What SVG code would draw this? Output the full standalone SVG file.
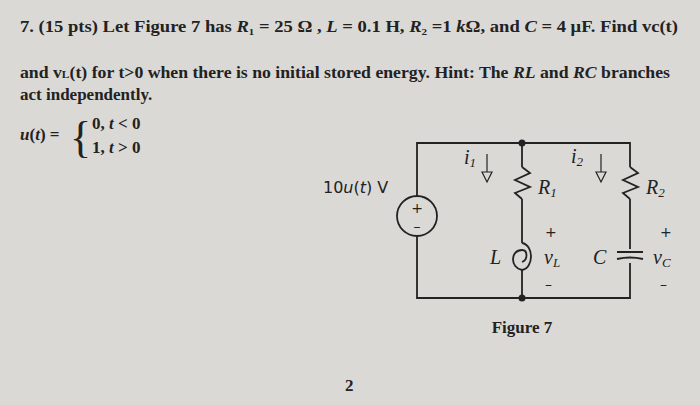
<svg xmlns="http://www.w3.org/2000/svg" width="700" height="405" viewBox="0 0 700 405">
<style>
.t{font-family:"Liberation Serif",serif;font-size:17px;fill:#222;font-weight:bold}
.it{font-style:italic}
.w{fill:none;stroke:#222;stroke-width:1.8}
.c{font-family:"Liberation Serif",serif;font-size:20px;fill:#222;font-style:italic}
.s{font-family:"DejaVu Sans",sans-serif;font-size:14px;fill:#222}
.ah{fill:none;stroke:#222;stroke-width:1.2}
</style>
<rect width="700" height="405" fill="#dad9d6"/>
<g id="text">
<text class="t" x="20" y="32" textLength="658" lengthAdjust="spacingAndGlyphs">7. (15 pts) Let Figure 7 has <tspan class="it">R</tspan>₁ = 25 Ω , <tspan class="it">L</tspan> = 0.1 H,  <tspan class="it">R</tspan>₂ =1 <tspan class="it">k</tspan>Ω, and <tspan class="it">C</tspan> = 4 μF. Find vc(t)</text>
<text class="t" x="20" y="78" textLength="650" lengthAdjust="spacingAndGlyphs">and v<tspan font-size="11">L</tspan>(t) for t&gt;0 when there is no initial stored energy. Hint: The <tspan class="it">RL</tspan> and <tspan class="it">RC</tspan> branches</text>
<text class="t" x="20" y="100">act independently.</text>
<text class="t" x="20" y="140"><tspan class="it">u</tspan>(<tspan class="it">t</tspan>) =</text>
<text class="t" x="70" y="152" style="font-size:44px;font-weight:normal">{</text>
<text class="t" x="92" y="129">0, <tspan class="it">t</tspan> &lt; 0</text>
<text class="t" x="92" y="153">1, <tspan class="it">t</tspan> &gt; 0</text>
<text class="t" x="522" y="333" text-anchor="middle">Figure 7</text>
<text class="t" x="345" y="391" font-weight="normal">2</text>
</g>
<g id="connectors">
<path class="w" d="M417,196 V143 H630 V167 M630,199 V249 M630,263 V298 H417 V236"/>
<path class="w" d="M522,143 V167 M522,199 V243 M522,270 V298"/>
<circle cx="522" cy="143" r="3.5" fill="#222"/>
<circle cx="522" cy="298" r="3.5" fill="#222"/>
</g>
<g id="source"><circle class="w" cx="417" cy="216" r="20"/><text class="s" x="417" y="213" text-anchor="middle" font-size="12">+</text><text class="s" x="417" y="231" text-anchor="middle" font-size="12">–</text><text class="s" x="323" y="193" style="font-size:16px">10<tspan font-style="italic">u</tspan>(<tspan font-style="italic">t</tspan>) V</text></g>
<g id="R1"><path class="w" d="M522,167 L530,173 L515,180 L530,187 L515,193 L522,199"/><text class="c" x="538" y="194">R<tspan font-size="13" dy="3">1</tspan></text></g>
<g id="R2"><path class="w" d="M630,167 L638,173 L623,180 L638,187 L623,193 L630,199"/><text class="c" x="646" y="194">R<tspan font-size="13" dy="3">2</tspan></text></g>
<g id="L"><path class="w" d="M522,243 C534,245 534,268 522,270 C510,268 510,250 522,250 C528,250 528,260 522,262"/><text class="c" x="490" y="264">L</text><text class="s" x="545" y="237">+</text><text class="c" x="544" y="264">v<tspan font-size="13" dy="3">L</tspan></text><text class="s" x="545" y="289">–</text></g>
<g id="C"><path class="w" stroke-width="2.2" d="M617,252 H643 M617,259 Q630,256 643,259"/><text class="c" x="593" y="264">C</text><text class="s" x="660" y="237">+</text><text class="c" x="653" y="264">v<tspan font-size="13" dy="3">C</tspan></text><text class="s" x="660" y="289">–</text></g>
<g id="i1"><line class="ah" x1="487" y1="154" x2="487" y2="172"/><path class="ah" d="M482,172 L492,172 L487,182 Z"/><text class="c" x="464" y="164">i<tspan font-size="13" dy="3">1</tspan></text></g>
<g id="i2"><line class="ah" x1="601" y1="154" x2="601" y2="172"/><path class="ah" d="M596,172 L606,172 L601,182 Z"/><text class="c" x="571" y="163">i<tspan font-size="13" dy="3">2</tspan></text></g>
</svg>
